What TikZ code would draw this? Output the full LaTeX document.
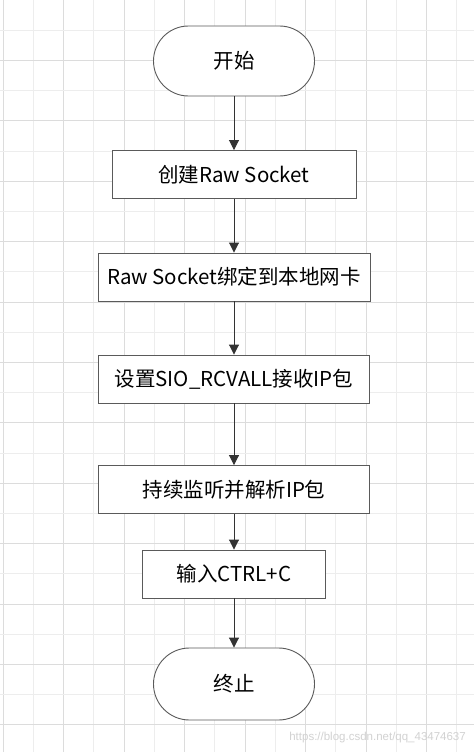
\documentclass[tikz,border=0pt]{standalone}
\usepackage{fontspec}
\setmainfont{Noto Sans CJK SC}
\newfontfamily\wmfont{Liberation Sans}
\usetikzlibrary{arrows.meta}
\definecolor{gridminor}{HTML}{EDEDED}
\definecolor{gridmajor}{HTML}{DCDCDC}
\definecolor{boxline}{HTML}{5A5A5A}
\definecolor{arrowline}{HTML}{333333}
\definecolor{wmgray}{HTML}{D2D2D2}
\newcommand{\lowtxt}[1]{\raisebox{-2pt}{#1}}
\tikzset{
  procbox/.style={draw=boxline, line width=0.9pt, fill=white, rectangle, inner sep=0pt,
    minimum height=48pt, font=\fontsize{20.5}{24}\selectfont},
  termbox/.style={draw=boxline, line width=0.9pt, fill=white, rectangle, rounded corners=35pt,
    inner sep=0pt, minimum width=161pt, minimum height=70pt, font=\fontsize{20.5}{24}\selectfont},
  flowarrow/.style={draw=arrowline, line width=0.9pt, -{Triangle[length=10pt,width=10pt]}},
}
\begin{document}
\begin{tikzpicture}[x=1pt,y=-1pt]
\useasboundingbox (0,0) rectangle (474,752);
\fill[white] (0,0) rectangle (474,752);
% grid
\foreach \k in {0,...,15}{
  \pgfmathsetmacro{\gx}{3+30.25*\k}
  \pgfmathtruncatemacro{\ev}{mod(\k,2)}
  \ifnum\ev=0
    \draw[gridmajor, line width=1pt] (\gx,0) -- (\gx,752);
  \else
    \draw[gridminor, line width=1pt] (\gx,0) -- (\gx,752);
  \fi
}
\foreach \k in {1,...,24}{
  \pgfmathsetmacro{\gy}{30.2*\k}
  \pgfmathtruncatemacro{\ev}{mod(\k,2)}
  \ifnum\ev=0
    \draw[gridmajor, line width=1pt] (0,\gy) -- (474,\gy);
  \else
    \draw[gridminor, line width=1pt] (0,\gy) -- (474,\gy);
  \fi
}
% nodes
\node[termbox] (start) at (234,61) {\lowtxt{开始}};
\node[procbox, minimum width=244pt] (b1) at (234,174.5) {\lowtxt{创建Raw Socket}};
\node[procbox, minimum width=272pt] (b2) at (234,277) {\lowtxt{Raw Socket绑定到本地网卡}};
\node[procbox, minimum width=271pt] (b3) at (234,379) {\lowtxt{设置SIO\_RCVALL接收IP包}};
\node[procbox, minimum width=271pt] (b4) at (234,489.5) {\lowtxt{持续监听并解析IP包}};
\node[procbox, minimum width=183pt] (b5) at (234,574) {\lowtxt{输入CTRL+C}};
\node[termbox, minimum height=72pt, rounded corners=36pt] (end) at (234,684) {\lowtxt{终止}};
% arrows
\draw[flowarrow] (start) -- (b1);
\draw[flowarrow] (b1) -- (b2);
\draw[flowarrow] (b2) -- (b3);
\draw[flowarrow] (b3) -- (b4);
\draw[flowarrow] (b4) -- (b5);
\draw[flowarrow] (b5) -- (end);
% watermark
\node[anchor=east, text=wmgray, inner sep=0pt, font=\wmfont\fontsize{11.5}{13}\selectfont] (wm) at (466,738) {https://blog.csdn.net/qq\_43474637};
\end{tikzpicture}
\end{document}
